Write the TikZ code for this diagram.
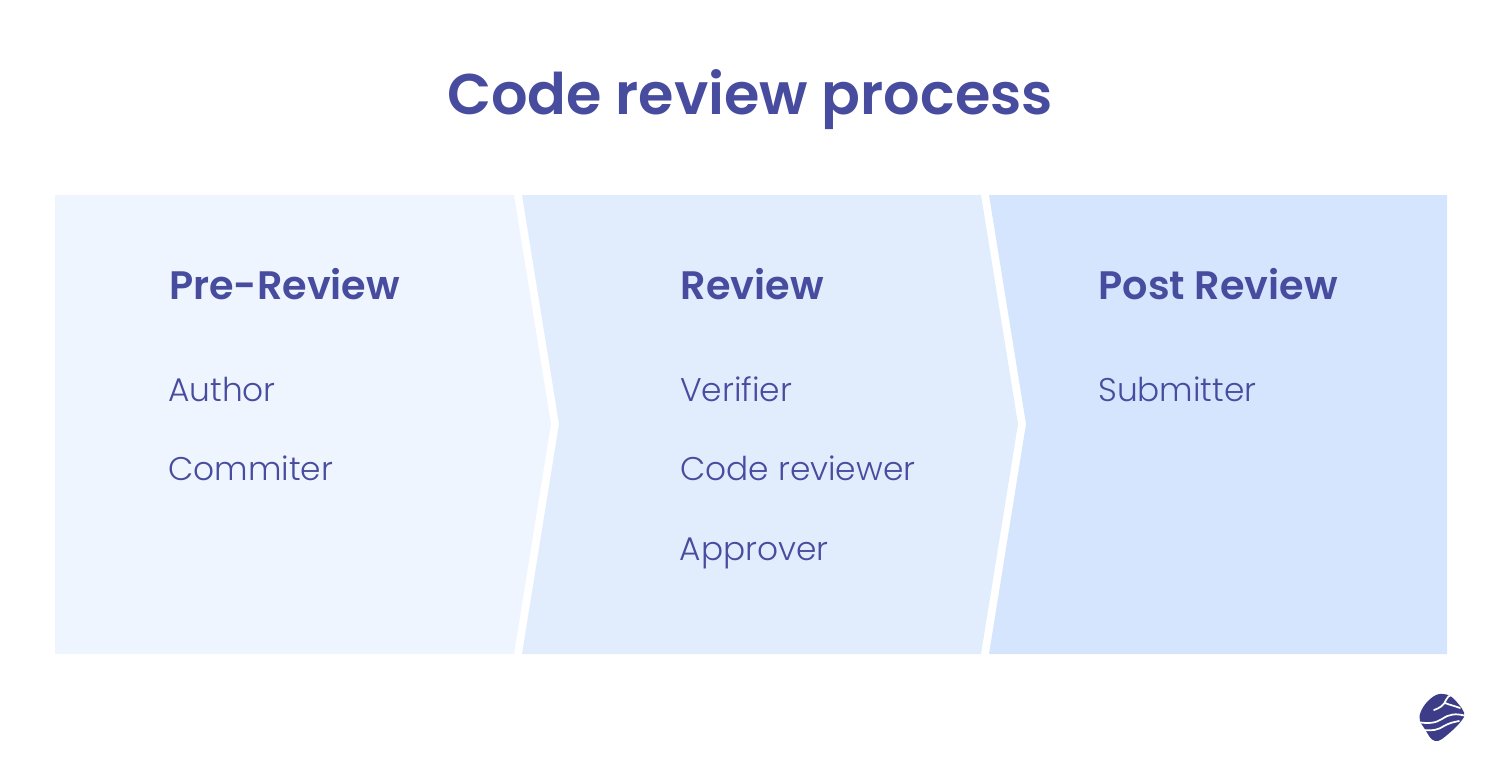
\documentclass[tikz,border=0pt]{standalone}
\usepackage{fontspec}
\setmainfont{Poppins Light}
\newfontfamily\headfont{Poppins SemiBold}
\definecolor{ink}{HTML}{474C9E}
\definecolor{logoink}{HTML}{3D3C88}
\definecolor{stepa}{HTML}{EFF5FE}
\definecolor{stepb}{HTML}{E1ECFD}
\definecolor{stepc}{HTML}{D5E5FD}
\tikzset{
  titletext/.style={anchor=base,inner sep=0pt,text=ink,font=\headfont\fontsize{43}{50}\selectfont},
  headtext/.style={anchor=base west,inner sep=0pt,text=ink,font=\headfont\fontsize{29.8}{36}\selectfont},
  roletext/.style={anchor=base west,inner sep=0pt,text=ink,font=\fontsize{24.6}{30}\selectfont},
  logoline/.style={draw=white,line width=1.3pt,line cap=round}
}
\begin{document}
\begin{tikzpicture}[x=0.75pt,y=-0.75pt]
\useasboundingbox (0,0) rectangle (1501,779);
\fill[stepa] (55,195) -- (514,195) -- (551,424) -- (514,654) -- (55,654) -- cycle;
\fill[stepb] (522,195) -- (981,195) -- (1018,424) -- (981,654) -- (522,654) -- (559,424) -- cycle;
\fill[stepc] (989,195) -- (1447,195) -- (1447,654) -- (989,654) -- (1026,424) -- cycle;
\node[titletext] (title) at (750,114) {Code review process};
\node[headtext] (h1) at (169,299) {Pre-Review};
\node[headtext] (h2) at (680.5,299) {Review};
\node[headtext] (h3) at (1098.5,299) {Post Review};
\node[roletext] (r1) at (168,401) {Author};
\node[roletext] (r2) at (168,480.5) {Commiter};
\node[roletext] (r3) at (680,401) {Verifier};
\node[roletext] (r4) at (680,480.5) {Code reviewer};
\node[roletext] (r5) at (679.5,560.5) {Approver};
\node[roletext] (r6) at (1098,401) {Submitter};
% logo
\fill[logoink] (1419.5,716) .. controls (1421,708) and (1428,699) .. (1436,695)
  .. controls (1443,692) and (1451,695) .. (1455,700)
  .. controls (1459,705) and (1466,711) .. (1464,717)
  .. controls (1460,724) and (1450,733) .. (1442,739)
  .. controls (1437,743) and (1432,741) .. (1429,736)
  .. controls (1426,731) and (1423,726) .. (1420,722) -- cycle;
\draw[logoline] (1418,722) .. controls (1428,724) and (1436,723) .. (1442,719)
  .. controls (1449,714) and (1456,713) .. (1466,716);
\draw[logoline] (1424,730) .. controls (1432,731) and (1438,730) .. (1444,726)
  .. controls (1449,723) and (1454,722) .. (1459,721);
\draw[logoline] (1434,710) .. controls (1440,708) and (1444,705) .. (1446,700)
  .. controls (1447,697) and (1449,696) .. (1451,695);
\draw[logoline] (1445,703) .. controls (1450,705) and (1455,706) .. (1460,708);
\end{tikzpicture}
\end{document}
